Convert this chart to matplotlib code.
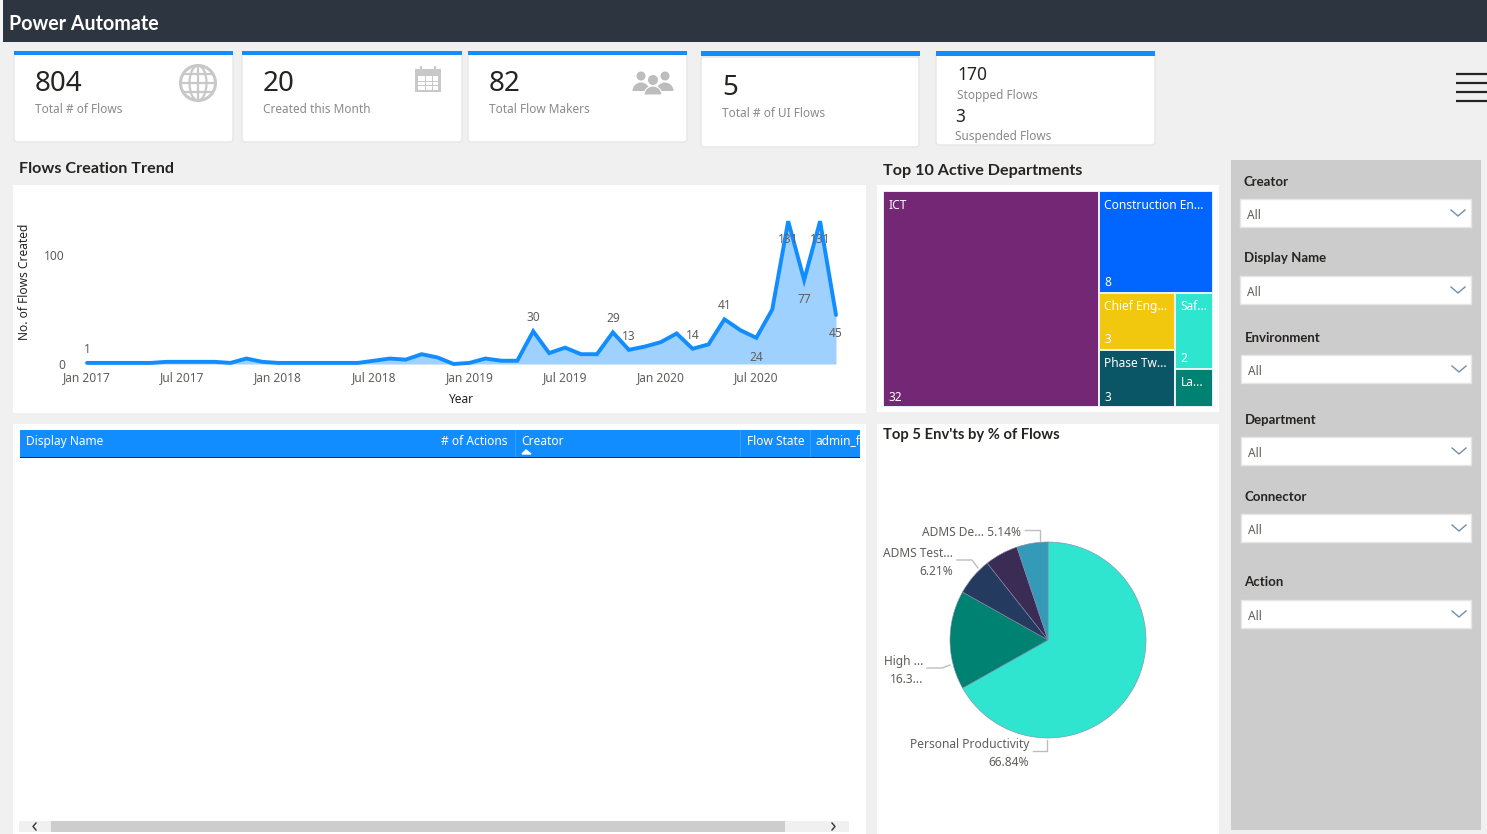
import numpy as np
import matplotlib
matplotlib.use("Agg")
import matplotlib.pyplot as plt
from matplotlib.patches import Rectangle, Circle, Ellipse, Wedge, FancyBboxPatch

plt.rcParams['font.family'] = ['Noto Sans', 'DejaVu Sans']

W, H = 1487, 834

# data
month_labels = ["Jan 2017", "Jul 2017", "Jan 2018", "Jul 2018", "Jan 2019", "Jul 2019", "Jan 2020", "Jul 2020"]
flows = [1, 1, 1, 1, 1, 2, 2, 2, 2, 1, 5, 2, 1, 1, 1, 1, 1, 1, 3, 5, 4, 9, 6, 0,
         1, 5, 3, 3, 30, 10, 15, 9, 9, 29, 13, 16, 20, 28, 14, 18, 41, 31, 24, 50,
         131, 77, 131, 45]
labelled = [0, 28, 33, 34, 38, 40, 42, 44, 45, 46, 47]
label_dy = [7, 7, 7, 7, 7, 7, -13, -12, -13, -12, -12]

departments = ["ICT", "Construction En...", "Chief Eng...", "Phase Tw...", "Saf...", "La..."]
dept_values = [32, 8, 3, 3, 2, 1]
dept_labels = ["32", "8", "3", "3", "2", ""]
dept_colors = ["#742774", "#0066FF", "#F2C80F", "#0A5667", "#2EE6D0", "#008272"]

env_values = [66.84, 16.3, 6.21, 5.51, 5.14]
env_colors = ["#30E5D0", "#008272", "#243A5E", "#3B2C56", "#3599B8"]

cards = [(14, 233, 51, 142, "804", "Total # of Flows"),
         (242, 462, 51, 142, "20", "Created this Month"),
         (468, 687, 51, 142, "82", "Total Flow Makers")]
slicers = ["Creator", "Display Name", "Environment", "Department", "Connector", "Action"]
slicer_label_y = [181, 258, 337, 419, 496, 582]
slicer_box_y = [199, 276, 355, 437, 514, 600]
table_cols = ["Display Name", "# of Actions", "Creator", "Flow State", "admin_f"]
table_col_x = [26, 441, 521, 747, 816]

BLUE = "#118DFF"
GREY_TXT = "#8A8A8A"
DARK_TXT = "#605E5C"
BOLD = "Lato"
TXT = 8.6


def px_axes(left, right, top, bottom, **kw):
    return fig.add_axes([left / W, 1 - bottom / H, (right - left) / W, (bottom - top) / H], **kw)


fig = plt.figure(figsize=(W / 100, H / 100), dpi=100, facecolor="#F0F0F0")

# overlay in pixel coordinates for the page furniture
bg = fig.add_axes([0, 0, 1, 1], zorder=0)
bg.set_xlim(0, W)
bg.set_ylim(H, 0)
bg.axis("off")


def box(x0, x1, y0, y1, color, **kw):
    bg.add_patch(Rectangle((x0, y0), x1 - x0, y1 - y0, fc=color, ec="none", **kw))


def card_body(x0, x1, y0, y1):
    bg.add_patch(FancyBboxPatch((x0 + 2, y0 + 2), x1 - x0 - 4, y1 - y0 - 4, boxstyle="round,pad=2,rounding_size=3",
                                fc="white", ec="#E6E6E6", lw=1))


box(0, 3, 0, 42, "#F5F5F5")
box(3, W, 0, 42, "#2D3540")
bg.text(9, 24, "Power Automate", color="white", fontsize=14.1, fontweight="bold", family=BOLD, va="center", ha="left")

# cards
for x0, x1, y0, y1, num, name in cards:
    card_body(x0, x1, y0 + 3, y1)
    box(x0, x1, y0, y0 + 4, BLUE)
    bg.text(x0 + 21, 84, num, fontsize=20, color="#252423", va="center")
    bg.text(x0 + 21, 109.5, name, fontsize=8.5, color=GREY_TXT, va="center")

card_body(701, 919, 57, 147)
box(701, 920, 51, 56, BLUE)
bg.text(722, 88, "5", fontsize=20, color="#252423", va="center")
bg.text(722, 113.5, "Total # of UI Flows", fontsize=8.5, color=GREY_TXT, va="center")

card_body(936, 1155, 53, 145)
box(936, 1155, 51, 55.5, BLUE)
bg.text(957, 75, "170", fontsize=12.5, color="#252423", va="center")
bg.text(957, 95.5, "Stopped Flows", fontsize=8.5, color=GREY_TXT, va="center")
bg.text(955, 117, "3", fontsize=12.5, color="#252423", va="center")
bg.text(955, 136.5, "Suspended Flows", fontsize=8.5, color=GREY_TXT, va="center")

# card icons
ICON = "#C8C8C8"
bg.add_patch(Circle((198, 83), 17.5, fc="none", ec=ICON, lw=2.2))
bg.add_patch(Ellipse((198, 83), 17, 35, fc="none", ec=ICON, lw=1.6))
bg.plot([198, 198], [65.5, 100.5], color=ICON, lw=1.6)
bg.plot([181, 215], [83, 83], color=ICON, lw=1.6)
bg.plot([184, 212], [74, 74], color=ICON, lw=1.6)
bg.plot([184, 212], [92, 92], color=ICON, lw=1.6)

box(415, 441, 69, 92, ICON)
box(418, 438, 76, 90, "white")
for gx in [424.5, 431.5]:
    box(gx, gx + 1.2, 76, 90, ICON)
for gy in [80.5, 85]:
    box(418, 438, gy, gy + 1.2, ICON)
for gx in [421, 435]:
    box(gx - 1, gx + 1, 66, 71, ICON)

for cx, cy, r in [(641, 76, 4.5), (665, 76, 4.5), (653, 80, 5)]:
    bg.add_patch(Circle((cx, cy), r, fc="#BDBDBD", ec="none"))
bg.add_patch(Wedge((641, 91), 8.5, 180, 360, fc="#BDBDBD", ec="none"))
bg.add_patch(Wedge((665, 91), 8.5, 180, 360, fc="#BDBDBD", ec="none"))
bg.add_patch(Wedge((653, 95), 9, 180, 360, fc="#BDBDBD", ec="white", lw=0.8))

# hamburger
for y in [73.5, 82.5, 91.5, 100.5]:
    bg.plot([1456, 1487], [y, y], color="#252423", lw=1.6, solid_capstyle="butt")

# panels
box(13, 866, 185, 413, "white")
box(13, 866, 424, H, "white")
box(877, 1219, 185, 412, "white")
box(877, 1219, 424, H, "white")
box(1231, 1481, 160, 830, "#CCCCCC")

bg.text(19, 169, "Flows Creation Trend", fontsize=11.6, fontweight="bold", family=BOLD, color="#252423", va="center")
bg.text(883, 171, "Top 10 Active Departments", fontsize=11.6, fontweight="bold", family=BOLD, color="#252423", va="center")
bg.text(883, 435, "Top 5 Env'ts by % of Flows", fontsize=10.6, fontweight="bold", family=BOLD, color="#252423", va="center")

# table header and scrollbar
box(20, 860, 430, 457, BLUE)
box(20, 860, 457, 458, "#0A2A6B")
for name, x in zip(table_cols, table_col_x):
    bg.text(x, 441, name, fontsize=TXT, color="white", va="center", clip_on=True)
box(860, 866, 430, 458, "white")
for x in [515, 740, 810]:
    box(x, x + 1, 430, 457, "#3D9DF5")
bg.fill([522, 526, 531], [454, 450, 454], color="white")
box(19, 849, 821, 832, "#F0F0F0")
box(51, 785, 821, 832, "#CDCDCD")
bg.plot([36, 33, 36], [823, 826.5, 830], color="#333333", lw=1)
bg.plot([832, 835, 832], [823, 826.5, 830], color="#333333", lw=1)

# slicers
for name, ly, by, in zip(slicers, slicer_label_y, slicer_box_y):
    dx = 0 if ly < 300 else 1
    bg.text(1243.5 + dx, ly + 0.5, name, fontsize=9.5, fontweight="bold", family=BOLD, color="#252423", va="center")
    bg.add_patch(Rectangle((1240 + dx, by), 231 - dx, 28, fc="white", ec="#E6E6E6", lw=1))
    bg.text(1247 + dx, by + 16, "All", fontsize=TXT, color=DARK_TXT, va="center")
    bg.plot([1451 + dx, 1458 + dx, 1465 + dx], [by + 11, by + 17, by + 11], color="#6F8FAF", lw=1)

# line chart
trend = px_axes(87, 836, 199, 364, zorder=2)
trend.patch.set_alpha(0)
x = np.arange(len(flows))
trend.fill_between(x, flows, 0, color="#9FD1FF", lw=0)
trend.plot(x, flows, color=BLUE, lw=2.8, solid_capstyle="round", solid_joinstyle="miter", clip_on=False)
trend.set_xlim(0, len(flows) - 1)
trend.set_ylim(0, 165 / 1.09)
for s in trend.spines.values():
    s.set_visible(False)
trend.set_xticks(x[::6])
trend.set_xticklabels(month_labels, fontsize=TXT, color=DARK_TXT)
trend.set_yticks([0, 100])
trend.set_yticklabels(["0", "100"], fontsize=TXT, color=DARK_TXT)
trend.tick_params(length=0)
trend.tick_params(axis="x", pad=5)
trend.tick_params(axis="y", pad=16)
trend.set_xlabel("Year", fontsize=TXT, color="#252423", labelpad=6.5)
trend.set_ylabel("No. of Flows Created", fontsize=TXT, color="#252423")
trend.yaxis.set_label_coords(-56 / 749, 82 / 165)
for i, dy in zip(labelled, label_dy):
    trend.annotate(str(flows[i]), (x[i], flows[i]), xytext=(0, dy * 0.72), textcoords="offset points",
                   ha="center", va="bottom" if dy > 0 else "top", fontsize=TXT, color=DARK_TXT, annotation_clip=False)

# treemap, layout worked out from the values
tree = px_axes(883, 1213, 191, 407, zorder=2)
tree.set_xlim(0, 1)
tree.set_ylim(1, 0)
tree.axis("off")
total = sum(dept_values)
x1 = dept_values[0] / total
right = sum(dept_values[1:])
y1 = dept_values[1] / right
col = sum(dept_values[2:4])
x2 = x1 + (1 - x1) * col / (col + sum(dept_values[4:]))
y2 = y1 + (1 - y1) * dept_values[2] / col
y3 = y1 + (1 - y1) * dept_values[4] / sum(dept_values[4:])
rects = [(0, 0, x1, 1), (x1, 0, 1, y1), (x1, y1, x2, y2), (x1, y2, x2, 1), (x2, y1, 1, y3), (x2, y3, 1, 1)]
for (a, b, c, d), name, val, color in zip(rects, departments, dept_labels, dept_colors):
    tree.add_patch(Rectangle((a, b), c - a, d - b, fc=color, ec="#EAF2F8", lw=1.4))
    tree.annotate(name, (a, b), xytext=(4.3, -14 * 0.72), textcoords="offset points", color="white",
                  fontsize=TXT, va="center", ha="left")
    if val:
        tree.annotate(val, (a, d), xytext=(4.3, 10 * 0.72), textcoords="offset points", color="white",
                      fontsize=TXT, va="center", ha="left")

# pie
pie_ax = px_axes(950, 1146, 542, 738, zorder=2)
pie_ax.pie(env_values, colors=env_colors, startangle=90, counterclock=False, radius=1,
           wedgeprops={"linewidth": 0.4, "edgecolor": "#8888AA"})
pie_ax.set_xlim(-1, 1)
pie_ax.set_ylim(-1, 1)

LEAD = "#BDBDBD"
bg.text(1021, 532.5, "ADMS De... 5.14%", fontsize=TXT, color=DARK_TXT, ha="right", va="center")
bg.plot([1025, 1040, 1040], [530, 530, 541], color=LEAD, lw=1)
bg.text(953, 553.5, "ADMS Test...", fontsize=TXT, color=DARK_TXT, ha="right", va="center")
bg.text(953, 571.5, "6.21%", fontsize=TXT, color=DARK_TXT, ha="right", va="center")
bg.plot([957, 972, 978], [560, 560, 568], color=LEAD, lw=1)
bg.text(923, 661.5, "High ...", fontsize=TXT, color=DARK_TXT, ha="right", va="center")
bg.text(923, 679.5, "16.3...", fontsize=TXT, color=DARK_TXT, ha="right", va="center")
bg.plot([927, 942, 950], [668, 668, 665], color=LEAD, lw=1)
bg.text(1029, 744.5, "Personal Productivity", fontsize=TXT, color=DARK_TXT, ha="right", va="center")
bg.text(1029, 762.5, "66.84%", fontsize=TXT, color=DARK_TXT, ha="right", va="center")
bg.plot([1033, 1047, 1047], [751, 751, 740], color=LEAD, lw=1)

fig.savefig("out.png", dpi=100, facecolor=fig.get_facecolor())
